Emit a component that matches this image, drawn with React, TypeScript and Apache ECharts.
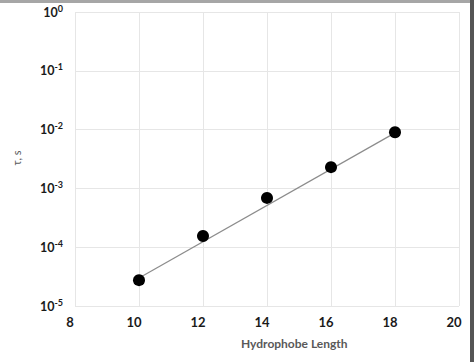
import React, { useEffect, useRef } from "react";
import * as echarts from "echarts";

const xValues = [10, 12, 14, 16, 18];
const tauValues = [2.75e-5, 1.55e-4, 6.9e-4, 2.3e-3, 9.0e-3];
const trendX = [10, 18];
const trendY = [3.0e-5, 8.8e-3];
const xTicks = [8, 10, 12, 14, 16, 18, 20];

export default function App() {
  const ref = useRef<HTMLDivElement>(null);
  useEffect(() => {
    if (!ref.current) return;
    const chart = echarts.init(ref.current, null, { renderer: "svg" });
    const font = "Lato, 'Open Sans', sans-serif";
    chart.setOption({
      animation: false,
      backgroundColor: "#ffffff",
      grid: { left: 75, right: 15, top: 12, bottom: 56, containLabel: false },
      xAxis: {
        type: "value",
        min: xTicks[0],
        max: xTicks[xTicks.length - 1],
        interval: 2,
        axisLine: { show: false },
        axisTick: { show: false },
        splitLine: { show: true, lineStyle: { color: "#e6e6e6", width: 1 } },
        axisLabel: {
          margin: 9,
          fontFamily: font,
          fontWeight: "bold",
          fontSize: 13,
          color: "#1a1a1a",
          padding: [0, 10, 0, 0],
        },
      },
      yAxis: {
        type: "log",
        logBase: 10,
        min: 1e-5,
        max: 1,
        axisLine: { show: false },
        axisTick: { show: false },
        splitLine: { show: true, lineStyle: { color: "#e6e6e6", width: 1 } },
        minorSplitLine: { show: false },
        axisLabel: {
          margin: 12,
          fontFamily: font,
          fontWeight: "bold",
          fontSize: 12,
          color: "#1a1a1a",
          formatter: (v: number) => {
            const e = Math.round(Math.log10(v));
            return "{b|10}{s|" + String(e) + "}";
          },
          rich: {
            b: { fontFamily: font, fontWeight: "bold", fontSize: 12.5, color: "#1a1a1a" },
            s: {
              fontFamily: font,
              fontWeight: "bold",
              fontSize: 9,
              color: "#1a1a1a",
              verticalAlign: "top",
              padding: [0, 0, 8, 0],
            },
          },
        },
      },
      series: [
        {
          type: "line",
          data: trendX.map((x, i) => [x, trendY[i]]),
          showSymbol: false,
          symbol: "none",
          lineStyle: { color: "#8c8c8c", width: 1.2 },
          z: 2,
        },
        {
          type: "scatter",
          data: xValues.map((x, i) => [x, tauValues[i]]),
          symbol: "circle",
          symbolSize: 12,
          itemStyle: { color: "#000000", opacity: 1 },
          z: 3,
        },
      ],
      graphic: [
        {
          type: "text",
          left: 241,
          top: 337,
          style: {
            text: "Hydrophobe Length",
            fontFamily: font,
            fontWeight: "bold",
            fontSize: 12,
            fill: "#595959",
            align: "center",
          },
        },
        {
          type: "text",
          x: 16,
          y: 158,
          rotation: Math.PI / 2,
          originX: 0,
          originY: 0,
          style: {
            text: "τ, s",
            x: 0,
            y: 0,
            fontFamily: font,
            fontSize: 11,
            fill: "#595959",
            align: "center",
            verticalAlign: "middle",
          },
        },
        {
          type: "rect",
          shape: { x: 0, y: 0, width: 474, height: 3 },
          style: { fill: "#a6a6a6" },
        },
        {
          type: "rect",
          shape: { x: 470, y: 0, width: 4, height: 362 },
          style: { fill: "#555555" },
        },
      ],
    });
    return () => chart.dispose();
  }, []);
  return (
    <div
      ref={ref}
      style={{ position: "absolute", left: 0, top: 0, width: 474, height: 362 }}
    />
  );
}
